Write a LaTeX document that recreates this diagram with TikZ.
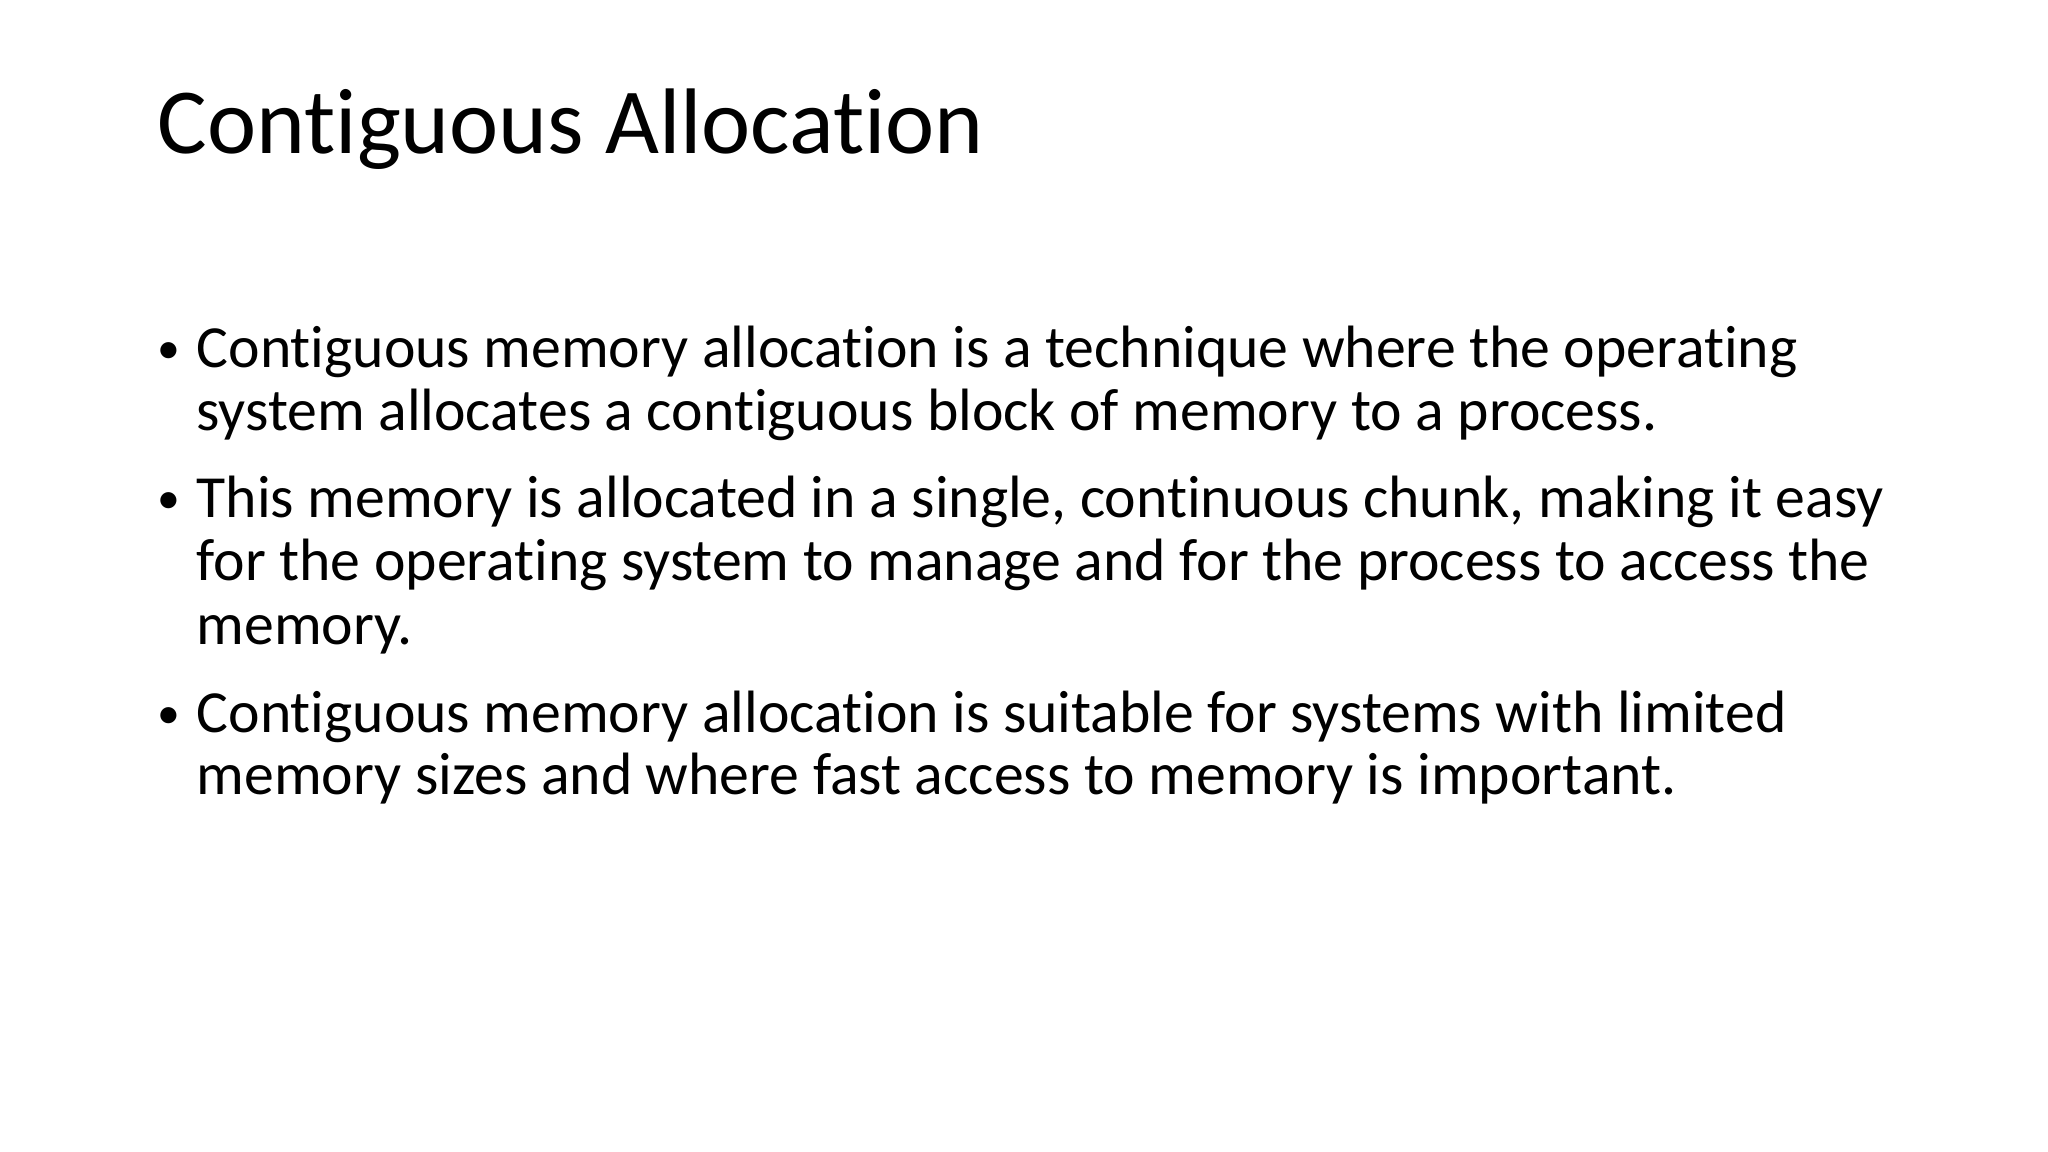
\documentclass[tikz,border=0pt]{standalone}
\usepackage{fontspec}
\setmainfont{Carlito}[RawFeature=-liga]
\begin{document}
\begin{tikzpicture}[x=1cm,y=1cm,
  ln/.style={anchor=base west,inner sep=0pt,font=\fontsize{17}{20}\selectfont},
  dot/.style={anchor=base west,inner sep=0pt,font=\fontsize{13}{16}\selectfont}]
\useasboundingbox[fill=white] (0,0) rectangle (20.48,11.52);
\node[anchor=base west,inner sep=0pt,font=\fontsize{26.5}{30}\selectfont] (title) at (1.57,9.98) {Contiguous Allocation};
\node[dot] (d1) at (1.57,7.88) {•};
\node[ln] (l1) at (1.96,7.84) {Contiguous memory allocation is a technique where the operating};
\node[ln] (l2) at (1.96,7.21) {system allocates a contiguous block of memory to a process.};
\node[dot] (d2) at (1.57,6.38) {•};
\node[ln] (l3) at (1.96,6.34) {This memory is allocated in a single, continuous chunk, making it easy};
\node[ln] (l4) at (1.96,5.71) {for the operating system to manage and for the process to access the};
\node[ln] (l5) at (1.96,5.07) {memory.};
\node[dot] (d3) at (1.57,4.23) {•};
\node[ln] (l6) at (1.96,4.19) {Contiguous memory allocation is suitable for systems with limited};
\node[ln] (l7) at (1.96,3.57) {memory sizes and where fast access to memory is important.};
\end{tikzpicture}
\end{document}
